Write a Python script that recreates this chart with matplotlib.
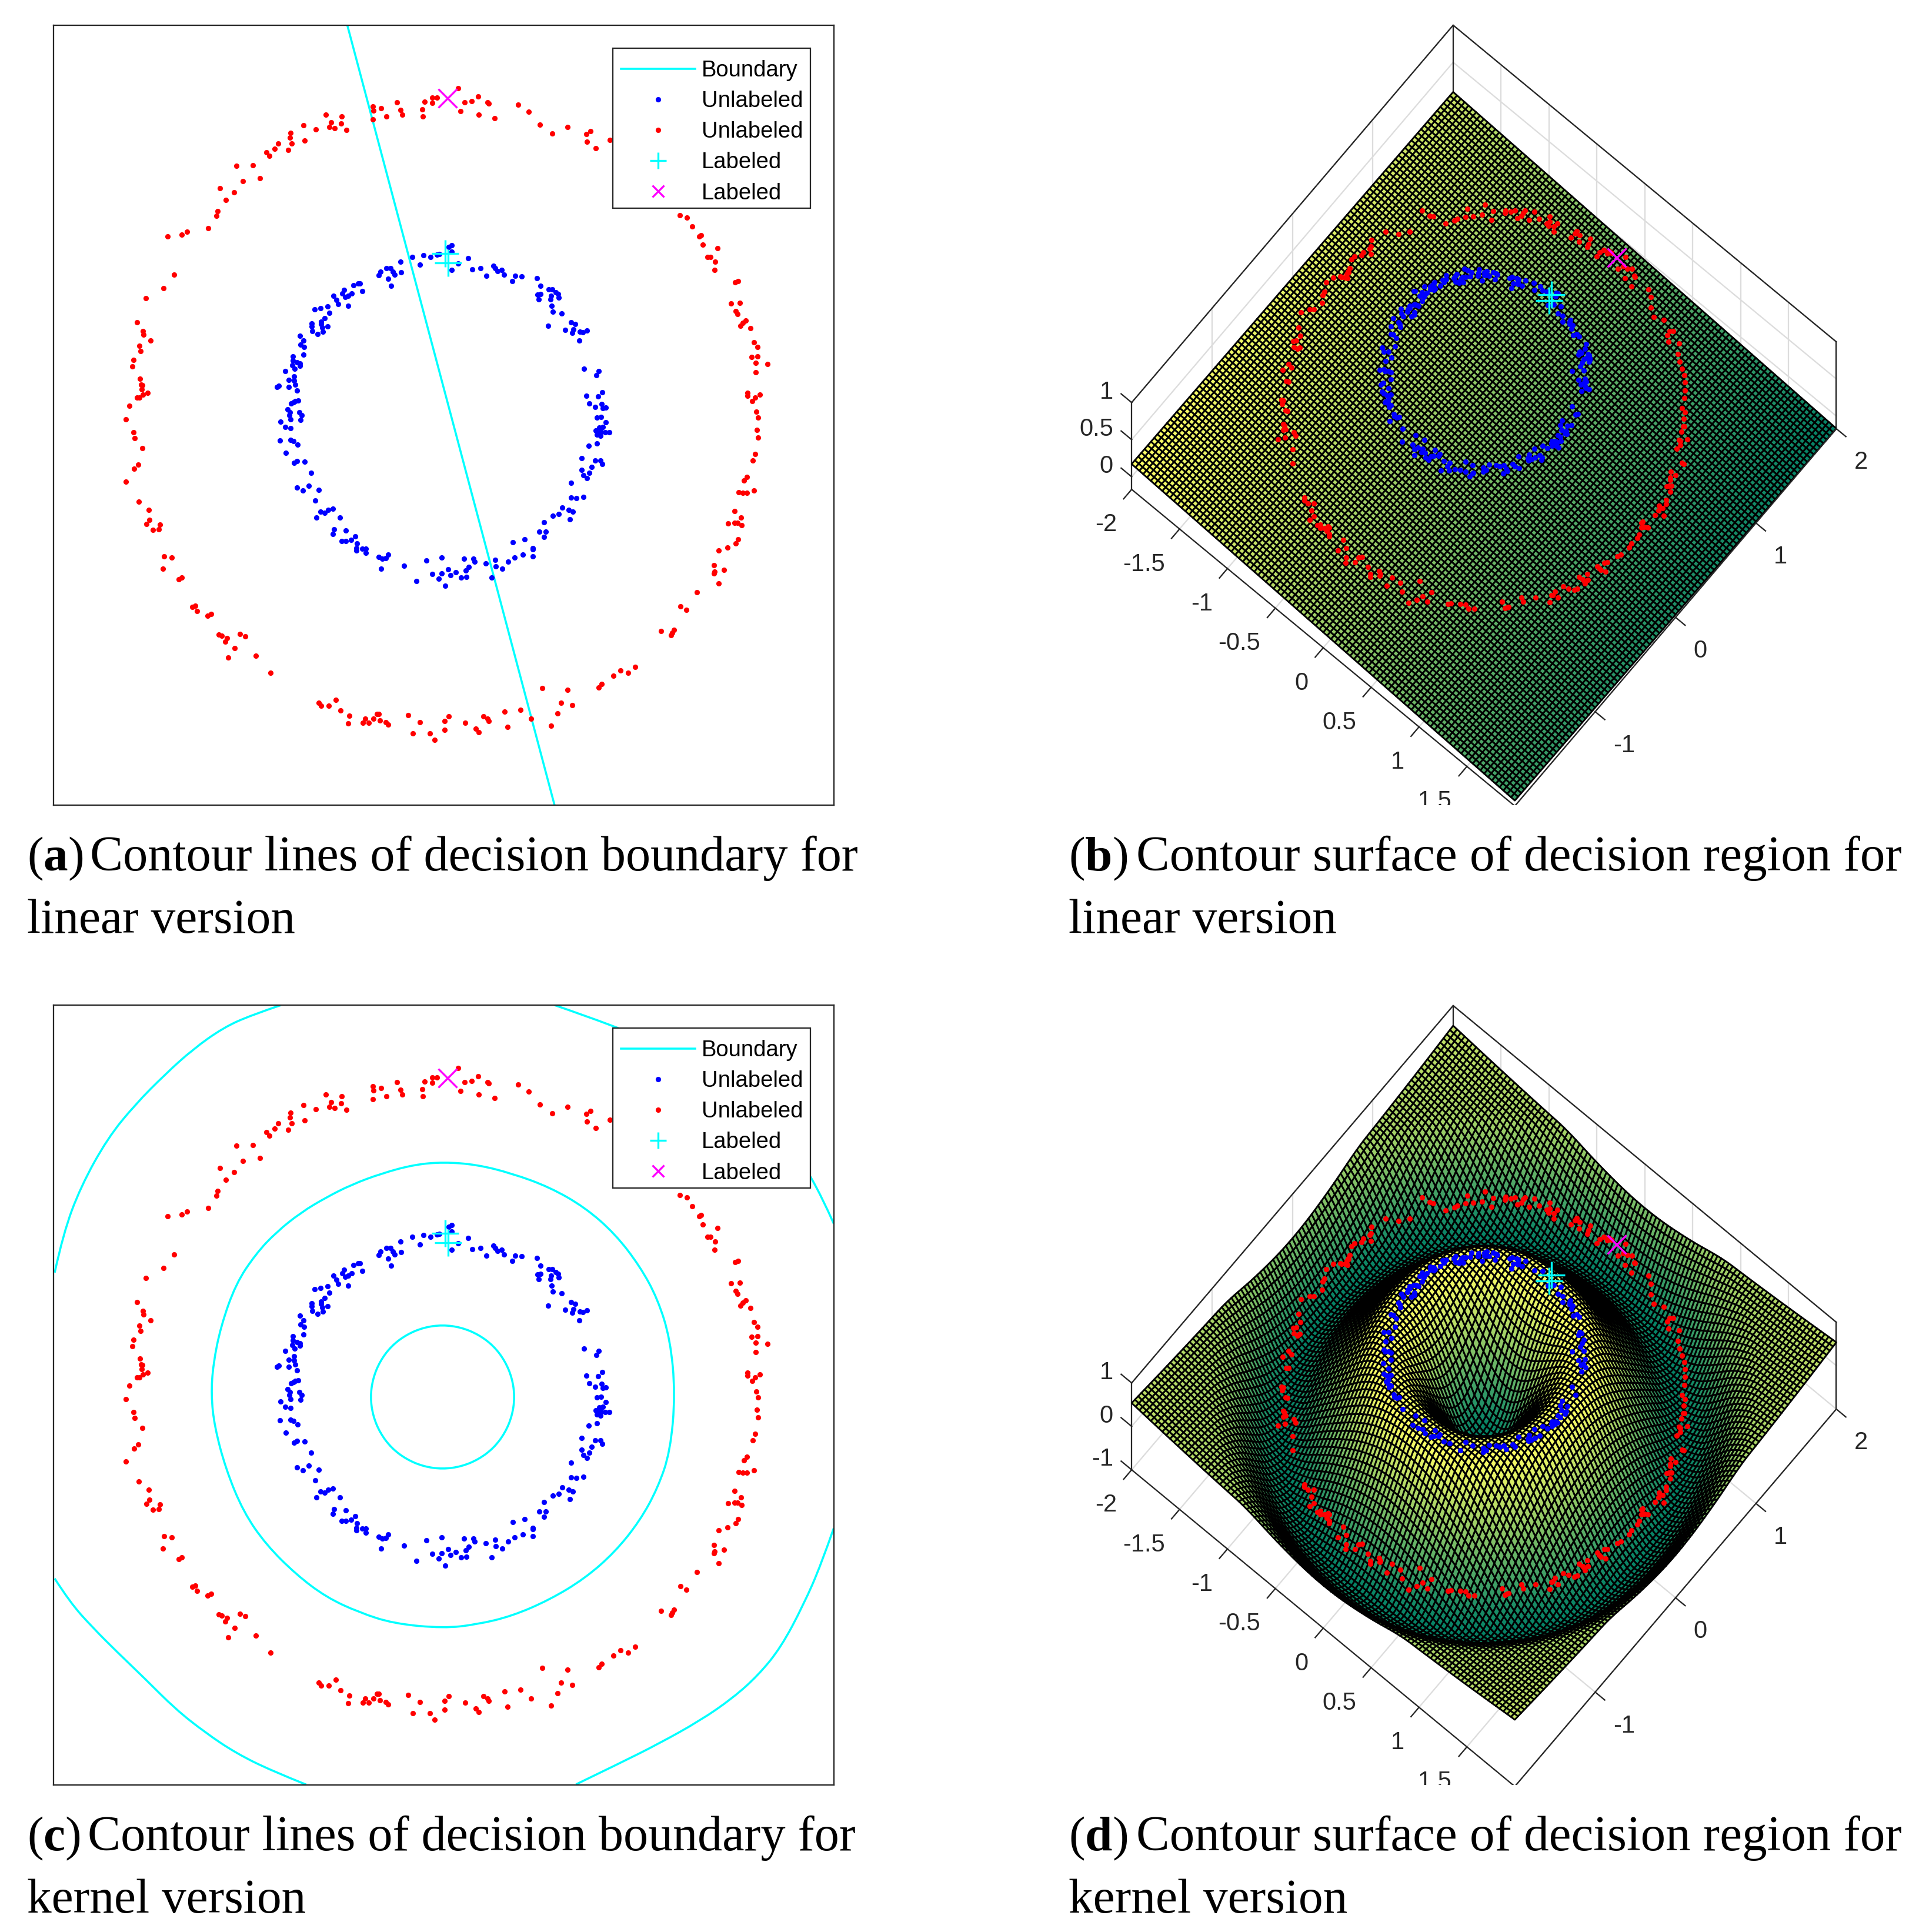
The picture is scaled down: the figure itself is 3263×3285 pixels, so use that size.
import numpy as np
import matplotlib
matplotlib.use("Agg")
import matplotlib.pyplot as plt
from matplotlib.lines import Line2D
from matplotlib.patches import PathPatch, Rectangle
from matplotlib.path import Path

W, H = 3263, 3285
DPI = 300
DARK = "#262626"
CYAN = "#00ffff"
MAGENTA = "#ff00ff"

red_x = [-0.363,-0.359,-0.321,-0.363,-0.294,-0.239,-0.222,-0.214,-0.111,-0.107,-0.098,-0.059,-0.058,-0.035,
    -0.523,-0.526,-0.499,-0.560,-0.587,-0.577,-0.604,-0.656,-0.720,-0.712,-0.786,-0.787,-0.779,-0.796,-0.849,-0.866,
    -0.908,-0.895,-0.977,-1.063,-0.943,-1.029,-1.148,-1.075,-1.117,-1.159,-1.165,-1.207,-1.317,-1.343,-1.416,-1.382,
    -1.437,-1.527,-1.573,-1.542,-1.539,-1.504,-1.561,-1.553,-1.591,-1.596,-1.557,-1.550,-1.546,-1.547,-1.519,-1.541,
    -1.561,-1.573,-1.611,-1.628,-1.591,-1.584,-1.546,-1.566,-1.588,-1.628,-1.564,-1.512,-1.508,-1.525,-1.453,-1.461,
    -1.491,-1.434,-1.395,-1.438,-1.344,-1.359,-1.289,-1.274,-1.266,-1.193,-1.210,-1.154,-1.138,-1.111,-1.121,-1.045,
    -1.016,-1.071,-1.105,-0.962,-0.887,-0.640,-0.627,-0.590,-0.552,-0.529,-0.484,-0.490,-0.414,-0.402,-0.383,-0.359,
    -0.343,-0.333,-0.328,-0.298,-0.285,-0.181,-0.157,-0.121,-0.070,-0.048,0.004,0.025,0.006,0.111,0.164,0.179,0.204,
    0.225,0.230,0.312,0.327,0.394,0.449,0.504,0.549,0.583,0.601,0.634,0.658,0.795,0.810,0.870,0.906,0.945,0.981,1.114,
    1.166,1.172,1.180,1.213,1.244,1.299,1.410,1.385,1.388,1.385,1.437,1.410,1.454,1.497,1.508,1.458,1.491,1.507,1.527,
    1.525,1.491,1.511,1.534,1.554,1.591,1.538,1.555,1.584,1.597,1.612,1.605,1.611,1.601,1.581,1.597,1.620,1.558,1.558,
    1.599,1.659,1.599,1.577,1.609,1.609,1.591,1.572,1.521,1.534,1.548,1.507,1.497,1.472,1.518,1.493,1.508,1.388,1.390,
    1.403,1.353,1.368,1.328,1.311,1.318,1.274,1.246,1.209,0.851,0.779,0.734,0.730,0.752,0.635,0.557,0.493,0.435,0.381,
    0.261,0.232,0.226,0.179,0.175,0.142,0.107,0.085,0.074,0.90,0.95,1.00,1.05,1.09,1.13,1.17]
red_y = [1.584,1.563,1.575,1.516,1.531,1.605,1.567,1.541,1.570,1.532,1.607,1.603,1.628,1.628,
    1.533,1.497,1.463,1.472,1.479,1.502,1.540,1.467,1.488,1.409,1.448,1.424,1.395,1.360,1.395,1.367,
    1.347,1.330,1.282,1.278,1.217,1.201,1.163,1.144,1.103,1.046,1.022,0.958,0.940,0.926,0.918,0.720,
    0.651,0.599,0.476,0.431,0.412,0.382,0.356,0.328,0.284,0.250,0.188,0.156,0.154,0.133,0.114,0.105,
    0.090,0.090,0.047,-0.022,-0.088,-0.117,-0.169,-0.254,-0.274,-0.340,-0.444,-0.487,-0.538,-0.557,-0.562,-0.584,
    -0.589,-0.724,-0.729,-0.788,-0.833,-0.841,-0.982,-0.978,-1.004,-1.021,-1.029,-1.125,-1.130,-1.142,-1.160,-1.123,
    -1.133,-1.196,-1.243,-1.234,-1.321,-1.475,-1.490,-1.490,-1.459,-1.515,-1.541,-1.582,-1.577,-1.558,-1.578,-1.558,
    -1.531,-1.532,-1.566,-1.574,-1.588,-1.539,-1.631,-1.574,-1.632,-1.666,-1.568,-1.545,-1.615,-1.577,-1.609,-1.627,-1.546,
    -1.557,-1.570,-1.519,-1.599,-1.512,-1.557,-1.399,-1.593,-1.529,-1.476,-1.410,-1.488,-1.397,-1.380,-1.335,-1.309,-1.321,-1.292,-1.106,
    -1.129,-1.115,-1.102,-0.979,-0.998,-0.908,-0.862,-0.811,-0.803,-0.769,-0.792,-0.694,-0.679,-0.658,-0.636,-0.555,-0.551,-0.551,-0.563,
    -0.526,-0.492,-0.394,-0.398,-0.398,-0.386,-0.335,-0.317,-0.232,-0.200,-0.115,-0.075,-0.012,0.018,0.072,0.090,0.107,0.116,0.101,
    0.220,0.262,0.268,0.298,0.303,0.349,0.373,0.446,0.458,0.475,0.485,0.518,0.535,0.573,0.575,0.682,0.688,0.746,0.786,
    0.858,0.812,0.811,0.875,0.916,0.924,0.967,1.014,1.025,1.413,1.369,1.404,1.441,1.458,1.479,1.445,1.490,1.556,1.594,
    1.524,1.599,1.605,1.540,1.635,1.611,1.604,1.561,1.676,1.34,1.30,1.27,1.24,1.20,1.15,1.10]

blue_x = [-0.160,-0.103,-0.122,-0.067,-0.035,-0.023,0.042,0.027,0.041,0.042,-0.223,-0.219,-0.251,-0.262,-0.272,-0.293,
    -0.284,-0.270,-0.324,-0.334,-0.416,-0.430,-0.439,-0.463,-0.472,-0.491,-0.504,-0.519,-0.510,-0.490,-0.565,-0.551,
    -0.542,-0.596,-0.632,-0.663,-0.585,-0.611,-0.628,-0.628,-0.596,-0.623,-0.620,-0.647,-0.677,-0.677,-0.675,-0.737,
    -0.718,-0.733,-0.716,-0.720,-0.774,-0.774,-0.751,-0.736,-0.737,-0.776,-0.763,-0.813,-0.767,-0.766,-0.795,-0.761,
    -0.794,-0.846,-0.854,-0.751,-0.747,-0.760,-0.770,-0.782,-0.801,-0.788,-0.791,-0.786,-0.741,-0.729,-0.735,-0.837,
    -0.811,-0.786,-0.840,-0.784,-0.770,-0.748,-0.810,-0.768,-0.751,-0.714,-0.679,-0.752,-0.693,-0.721,-0.642,-0.659,
    -0.630,-0.611,-0.591,-0.569,-0.533,-0.652,-0.562,-0.569,-0.502,-0.523,-0.502,-0.475,-0.453,-0.445,-0.448,-0.448,
    -0.418,-0.399,-0.399,-0.333,-0.316,-0.297,-0.285,-0.321,-0.204,-0.140,-0.089,-0.010,-0.058,-0.012,-0.025,0.007,
    0.023,0.035,0.062,0.104,0.088,0.117,0.113,0.129,0.153,0.158,0.216,0.247,0.264,0.268,0.300,0.331,0.362,0.354,0.405,
    0.414,0.456,0.457,0.457,0.491,0.522,0.513,0.514,0.558,0.589,0.608,0.641,0.661,0.646,0.654,0.679,0.716,0.653,0.707,
    0.715,0.734,0.747,0.758,0.707,0.776,0.802,0.812,0.742,0.785,0.803,0.785,0.778,0.797,0.816,0.806,0.827,0.849,0.792,
    0.831,0.784,0.806,0.810,0.830,0.816,0.777,0.745,0.812,0.791,0.730,0.783,0.794,0.719,0.694,0.734,0.712,0.698,0.658,
    0.665,0.622,0.675,0.653,0.536,0.604,0.558,0.553,0.589,0.585,0.575,0.557,0.539,0.551,0.546,0.488,0.481,0.495,0.495,
    0.478,0.399,0.366,0.351,0.309,0.297,0.275,0.264,0.254,0.218,0.189,0.147,0.126,0.074]
blue_y = [0.812,0.820,0.771,0.811,0.824,0.826,0.872,0.862,0.838,0.744,0.786,0.732,0.722,0.735,0.753,0.753,
    0.701,0.663,0.737,0.719,0.635,0.676,0.676,0.668,0.625,0.613,0.605,0.624,0.642,0.561,0.613,0.590,
    0.569,0.557,0.550,0.543,0.524,0.498,0.479,0.469,0.455,0.448,0.428,0.417,0.471,0.454,0.431,0.408,
    0.384,0.361,0.350,0.312,0.303,0.280,0.273,0.264,0.254,0.255,0.239,0.225,0.199,0.179,0.180,0.156,
    0.144,0.152,0.144,0.126,0.076,0.073,0.067,0.060,0.029,0.016,0.000,-0.020,0.015,0.000,-0.024,-0.033,
    -0.060,-0.066,-0.131,-0.127,-0.134,-0.150,-0.193,-0.243,-0.234,-0.239,-0.296,-0.370,-0.362,-0.386,-0.383,-0.437,
    -0.496,-0.502,-0.487,-0.479,-0.524,-0.524,-0.585,-0.608,-0.590,-0.646,-0.646,-0.640,-0.621,-0.659,-0.682,-0.695,
    -0.686,-0.685,-0.706,-0.726,-0.736,-0.733,-0.716,-0.788,-0.772,-0.852,-0.745,-0.729,-0.815,-0.810,-0.839,-0.874,
    -0.790,-0.821,-0.806,-0.737,-0.834,-0.829,-0.795,-0.779,-0.737,-0.751,-0.761,-0.833,-0.741,-0.776,-0.788,-0.752,-0.730,-0.652,-0.714,
    -0.638,-0.725,-0.689,-0.682,-0.598,-0.596,-0.623,-0.549,-0.516,-0.507,-0.475,-0.487,-0.494,-0.533,-0.422,-0.426,-0.418,-0.346,-0.282,
    -0.309,-0.323,-0.297,-0.266,-0.219,-0.232,-0.231,-0.251,-0.158,-0.145,-0.107,-0.099,-0.078,-0.063,-0.060,-0.083,-0.088,-0.088,-0.090,
    -0.035,-0.012,-0.010,0.056,0.039,0.035,0.041,0.060,0.119,0.096,0.101,0.204,0.225,0.239,0.383,0.433,0.425,0.428,0.421,
    0.441,0.437,0.468,0.477,0.460,0.523,0.531,0.560,0.603,0.621,0.631,0.647,0.647,0.612,0.594,0.594,0.618,0.621,0.663,
    0.702,0.711,0.714,0.689,0.720,0.746,0.739,0.754,0.767,0.716,0.754,0.748,0.805,0.779]

plus_x = [0.009, 0.024]
plus_y = [0.830, 0.780]
cross_x = [0.021]
cross_y = [1.625]

# linear boundary
line_x = [-0.494, 0.568]
line_y = [2.0, -2.0]

# kernel boundary
inner_x = [0.364,0.351,0.314,0.256,0.179,0.090,-0.006,-0.102,-0.191,-0.268,-0.326,-0.363,-0.376,-0.363,-0.326,-0.268,-0.191,-0.102,-0.006,0.090,0.179,0.256,0.314,0.351]
inner_y = [-0.010,0.086,0.175,0.252,0.310,0.347,0.360,0.347,0.310,0.252,0.175,0.086,-0.010,-0.106,-0.195,-0.272,-0.330,-0.367,-0.380,-0.367,-0.330,-0.272,-0.195,-0.106]
middle_x = [0.0,0.169,0.349,0.543,0.723,0.878,1.006,1.097,1.161,1.187,1.161,1.097,1.006,0.878,0.723,0.543,0.349,0.169,0.0,-0.254,-0.434,-0.602,-0.756,-0.911,-1.027,-1.117,-1.175,-1.192,-1.182,-1.143,-1.066,-0.963,-0.860,-0.731,-0.602,-0.473,-0.318,-0.151]
middle_y = [1.195,1.182,1.137,1.066,0.963,0.827,0.660,0.492,0.286,0.005,-0.290,-0.477,-0.644,-0.805,-0.941,-1.050,-1.134,-1.177,-1.196,-1.173,-1.115,-1.037,-0.921,-0.767,-0.599,-0.380,-0.161,0.0,0.157,0.351,0.570,0.724,0.834,0.937,1.014,1.079,1.137,1.182]
tl_x = [-1.994,-1.950,-1.860,-1.723,-1.581,-1.427,-1.285,-1.130,-0.988,-0.834]
tl_y = [0.628,0.830,1.070,1.317,1.491,1.646,1.774,1.884,1.948,2.0]
tr_x = [0.568,0.903,1.161,1.419,1.677,1.883,1.999]
tr_y = [2.0,1.884,1.768,1.613,1.394,1.143,0.879]
br_x = [1.999,1.934,1.844,1.728,1.612,1.483,1.316,1.097,0.903,0.678]
br_y = [-0.683,-0.870,-1.076,-1.295,-1.437,-1.553,-1.669,-1.791,-1.888,-1.997]
bl_x = [-1.994,-1.916,-1.800,-1.671,-1.530,-1.375,-1.220,-1.066,-0.885,-0.705]
bl_y = [-0.941,-1.063,-1.192,-1.321,-1.456,-1.611,-1.733,-1.836,-1.926,-1.998]

# decision value against radius for the kernel surface
profile_r = [0.0,0.1,0.2,0.37,0.5,0.65,0.85,0.95,1.19,1.45,1.6,1.75,2.0,2.15,2.83,3.0]
profile_z = [-1.0,-0.95,-0.75,0.0,0.5,0.9,1.0,0.78,0.0,-0.78,-1.0,-0.8,0.0,0.3,0.54,0.56]

# plane of the linear surface
plane_w = [-0.067, -0.018]
plane_b = 0.002

x_ticks3d = [-2,-1.5,-1,-0.5,0,0.5,1,1.5]
y_ticks3d = [-1,0,1,2]

plt.rcParams["font.family"] = ["Liberation Sans", "DejaVu Sans"]
plt.rcParams["mathtext.fontset"] = "custom"
plt.rcParams["mathtext.bf"] = "Liberation Serif:bold"
plt.rcParams["mathtext.rm"] = "Liberation Serif"


def px_rect(left, top, right, bottom):
    return [left / W, 1 - bottom / H, (right - left) / W, (bottom - top) / H]


def smooth_line(ax, xs, ys, closed=False):
    # quadratic curve through the midpoints of the read points
    pts = np.column_stack([xs, ys])
    if closed:
        mids = (pts + np.roll(pts, -1, axis=0)) / 2
        verts = [mids[-1]]
        for p, m in zip(pts, mids):
            verts += [p, m]
    else:
        mids = (pts[1:] + pts[:-1]) / 2
        verts = [pts[0]]
        for p, m in zip(pts[1:-1], mids[1:]):
            verts += [p, m]
        verts[-1] = pts[-1]
    codes = [Path.MOVETO] + [Path.CURVE3] * (len(verts) - 1)
    ax.add_patch(PathPatch(Path(verts, codes), fill=False, edgecolor=CYAN, lw=0.85, zorder=2))


def panel_2d(rect):
    ax = fig.add_axes(rect)
    ax.set_xlim(-2, 2)
    ax.set_ylim(-2, 2)
    ax.set_xticks([])
    ax.set_yticks([])
    for s in ax.spines.values():
        s.set_linewidth(0.55)
        s.set_color(DARK)
    ax.plot(blue_x, blue_y, "o", color="b", ms=2.2, mew=0, zorder=3)
    ax.plot(red_x, red_y, "o", color="r", ms=2.2, mew=0, zorder=3)
    ax.plot(plus_x, plus_y, "+", color=CYAN, ms=11, mew=0.8, zorder=4)
    ax.plot(cross_x, cross_y, "x", color=MAGENTA, ms=7.5, mew=0.8, zorder=4)
    return ax


def add_legend(ax):
    handles = [
        Line2D([], [], color=CYAN, lw=0.85),
        Line2D([], [], ls="", marker="o", color="b", ms=2.2, mew=0),
        Line2D([], [], ls="", marker="o", color="r", ms=2.2, mew=0),
        Line2D([], [], ls="", marker="+", color=CYAN, ms=6.6, mew=0.8),
        Line2D([], [], ls="", marker="x", color=MAGENTA, ms=5, mew=0.8),
    ]
    labels = ["Boundary", "Unlabeled", "Unlabeled", "Labeled", "Labeled"]
    # frame drawn apart from the entries, its padding is not even in the source
    ax.add_patch(Rectangle((0.7167, 0.7651), 0.2531, 0.2055, transform=ax.transAxes, facecolor="w",
                           edgecolor=DARK, lw=0.55, zorder=9))
    leg = ax.legend(handles, labels, loc="upper left", bbox_to_anchor=(0.7167, 0.9658), borderaxespad=0,
                    fontsize=9.2, handlelength=3.29, handletextpad=0.28, labelspacing=0.42,
                    borderpad=0.36, frameon=False, labelcolor="k")
    leg.set_zorder(10)


def panel_3d(rect, Z, zlim, zticks, zlabels, vlim, z_blue, z_red, blue_keep):
    ax = fig.add_axes(rect, projection="3d", proj_type="ortho", computed_zorder=False)
    ax.set_box_aspect((1, 1, 1), zoom=1)
    ax.view_init(elev=80, azim=-50)
    ax.set_xlim(-2, 2)
    ax.set_ylim(-2, 2)
    ax.set_zlim(*zlim)
    ax.set_axis_off()
    z0, z1 = zlim
    grey = dict(color="#dcdcdc", lw=0.55, zorder=1)
    for v in x_ticks3d[1:] + [2]:
        ax.plot([v, v], [2, 2], [z0, z1], **grey)
        ax.plot([v, v], [-2, 2], [z0, z0], **grey)
    for v in y_ticks3d[:-1]:
        ax.plot([-2, -2], [v, v], [z0, z1], **grey)
        ax.plot([-2, 2], [v, v], [z0, z0], **grey)
    for v in zticks:
        ax.plot([-2, -2], [-2, 2], [v, v], **grey)
        ax.plot([-2, 2], [2, 2], [v, v], **grey)
    dark = dict(color=DARK, lw=0.55, zorder=1)
    ax.plot([-2, -2], [2, 2], [z0, z1], **dark)
    ax.plot([-2, -2, 2], [-2, 2, 2], [z1, z1, z1], **dark)
    ax.plot([-2, -2], [-2, -2], [z0, z1], **dark)
    ax.plot([2, 2], [2, 2], [z0, z1], **dark)
    ax.plot_surface(X, Y, Z, rstride=1, cstride=1, cmap="summer", vmin=vlim[0], vmax=vlim[1],
                    edgecolor="k", linewidth=0.7, shade=False, zorder=2)
    dark["zorder"] = 3
    ax.plot([-2, 2, 2], [-2, -2, 2], [z0, z0, z0], **dark)
    for v in x_ticks3d + [2]:
        ax.plot([v, v], [-2, -2.1], [z0, z0], **dark)
    for v, s in zip(x_ticks3d, ["-2", "-1.5", "-1", "-0.5", "0", "0.5", "1", "1.5"]):
        ax.text(v + 0.094, -2.297, z0, s, ha="right", va="center", fontsize=10, color=DARK, zorder=3)
    for v in y_ticks3d:
        ax.plot([2, 2.1], [v, v], [z0, z0], **dark)
        ax.text(2.286, v - 0.119, z0, str(v), ha="left", va="center", fontsize=10, color=DARK, zorder=3)
    for v, s in zip(zticks, zlabels):
        ax.plot([-2, -2.11], [-2, -2], [v, v], **dark)
        ax.text(-2.167, -2.03, v, s, ha="right", va="center", fontsize=10, color=DARK, zorder=3)
    bx = np.array(blue_x)[blue_keep]
    by = np.array(blue_y)[blue_keep]
    ax.plot(bx, by, np.full(len(bx), z_blue), "o", color="b", ms=2.2, mew=0, zorder=4)
    ax.plot(red_x, red_y, z_red, "o", color="r", ms=2.2, mew=0, zorder=4)
    ax.plot(plus_x, plus_y, z_blue, "+", color=CYAN, ms=11, mew=0.8, zorder=5)
    ax.plot(cross_x, cross_y, z_red, "x", color=MAGENTA, ms=7.5, mew=0.8, zorder=5)
    return ax


def caption(x, x_text, y1, y2, tag, line1, line2, size):
    serif = dict(family="Liberation Serif", color="k", va="baseline")
    fig.text(x / W, 1 - y1 / H, "($\\mathbf{%s}$)" % tag, fontsize=20, **serif)
    fig.text(x_text / W, 1 - y1 / H, line1, fontsize=size, **serif)
    fig.text(x / W, 1 - y2 / H, line2, fontsize=20, **serif)


fig = plt.figure(figsize=(W / DPI, H / DPI), dpi=DPI)

grid = np.linspace(-2, 2, 101)
X, Y = np.meshgrid(grid, grid)

# plane for (b)
Z_plane = plane_w[0] * X + plane_w[1] * Y + plane_b

# surface for (d), radius table evened out a little
r_fine = np.linspace(0, 3, 601)
z_fine = np.interp(r_fine, profile_r, profile_z)
kernel = np.ones(21) / 21
z_fine = np.convolve(np.pad(z_fine, 10, mode="edge"), kernel, mode="valid")
Z_kernel = np.interp(np.hypot(X, Y), r_fine, z_fine)

ax_a = panel_2d(px_rect(91, 43, 1418, 1369))
ax_a.plot(line_x, line_y, color=CYAN, lw=0.85, zorder=2)
add_legend(ax_a)

ax_c = panel_2d(px_rect(91, 1709, 1418, 3035))
smooth_line(ax_c, inner_x, inner_y, closed=True)
smooth_line(ax_c, middle_x, middle_y, closed=True)
smooth_line(ax_c, tl_x, tl_y)
smooth_line(ax_c, tr_x, tr_y)
smooth_line(ax_c, br_x, br_y)
smooth_line(ax_c, bl_x, bl_y)
add_legend(ax_c)

all_blue = np.ones(len(blue_x), dtype=bool)
# in (d) the blue points sitting right on the ridge are buried in the surface
ridge_hidden = np.abs(np.hypot(blue_x, blue_y) - 0.85) < 0.03

panel_3d(px_rect(1789, 11, 3219, 1441), Z_plane, (-0.17, 1), [0, 0.5, 1], ["0", "0.5", "1"], (-0.17, 0.17), 1.0, 0.5, all_blue)
panel_3d(px_rect(1789, 1678, 3219, 3108), Z_kernel, (-1, 1), [-1, 0, 1], ["-1", "0", "1"], (-1, 1), 1.0, 0.0, ~ridge_hidden)

# the 3d labels are cut at the frame bottom in the source
for top in (1369, 3035):
    fig.add_artist(Rectangle((2250 / W, 1 - (top + 40) / H), 450 / W, 40 / H, transform=fig.transFigure,
                             facecolor="w", edgecolor="none", zorder=5))

caption(46, 153, 1480, 1586, "a", "Contour lines of decision boundary for", "linear version", 20.2)
caption(1817, 1932, 1480, 1586, "b", "Contour surface of decision region for", "linear version", 20.4)
caption(46, 149, 3146, 3252, "c", "Contour lines of decision boundary for", "kernel version", 20.2)
caption(1817, 1932, 3146, 3252, "d", "Contour surface of decision region for", "kernel version", 20.4)

fig.savefig("out.png", dpi=DPI)
plt.close(fig)
